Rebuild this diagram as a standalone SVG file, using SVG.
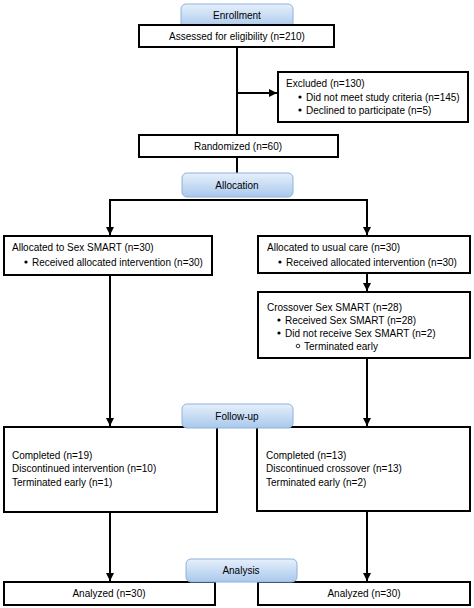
<svg xmlns="http://www.w3.org/2000/svg" width="474" height="608" viewBox="0 0 474 608">
<defs>
<linearGradient id="blue" x1="0" y1="0" x2="0" y2="1">
<stop offset="0" stop-color="#e6f0fb"/>
<stop offset="1" stop-color="#a9c8ec"/>
</linearGradient>
<marker id="arr" viewBox="0 0 10 10" refX="10" refY="5" markerWidth="4" markerHeight="4" orient="auto">
<path d="M0,0 L10,5 L0,10 z" fill="#000"/>
</marker>
</defs>
<style>
.box{fill:#fff;stroke:#000;stroke-width:2}
.stage{fill:url(#blue);stroke:#8fb2dd;stroke-width:1}
.t{font-family:"Liberation Sans",Arial,sans-serif;font-size:10px;fill:#000}
.c{text-anchor:middle}
.ln{stroke:#000;stroke-width:2;fill:none}
</style>
<rect width="474" height="608" fill="#fff"/>
<g id="connectors">
<line class="ln" x1="237" y1="47" x2="237" y2="135"/>
<line class="ln" x1="237" y1="93" x2="277" y2="93" marker-end="url(#arr)"/>
<line class="ln" x1="237" y1="157" x2="237" y2="174"/>
<line class="ln" x1="109" y1="200" x2="368" y2="200"/>
<line class="ln" x1="110" y1="199" x2="110" y2="235" marker-end="url(#arr)"/>
<line class="ln" x1="367" y1="199" x2="367" y2="235" marker-end="url(#arr)"/>
<line class="ln" x1="367" y1="273" x2="367" y2="291" marker-end="url(#arr)"/>
<line class="ln" x1="110" y1="275" x2="110" y2="426" marker-end="url(#arr)"/>
<line class="ln" x1="367" y1="358" x2="367" y2="426" marker-end="url(#arr)"/>
<line class="ln" x1="110" y1="512" x2="110" y2="581" marker-end="url(#arr)"/>
<line class="ln" x1="367" y1="511" x2="367" y2="581" marker-end="url(#arr)"/>
</g>
<g id="enrollment">
<rect class="stage" x="181" y="4" width="112" height="24" rx="5"/>
<text class="t c" x="237" y="19">Enrollment</text>
</g>
<g id="assessed">
<rect class="box" x="139" y="25" width="195" height="22"/>
<text class="t c" x="237" y="40">Assessed for eligibility (n=210)</text>
</g>
<g id="excluded">
<rect class="box" x="278" y="72" width="190" height="50"/>
<text class="t" x="286" y="87">Excluded (n=130)</text>
<circle cx="300" cy="97" r="1.6"/>
<text class="t" x="306" y="101">Did not meet study criteria (n=145)</text>
<circle cx="300" cy="110" r="1.6"/>
<text class="t" x="306" y="114">Declined to participate (n=5)</text>
</g>
<g id="randomized">
<rect class="box" x="139" y="135" width="199" height="22"/>
<text class="t c" x="238" y="150">Randomized (n=60)</text>
</g>
<g id="allocation">
<rect class="stage" x="182" y="173" width="111" height="24" rx="5"/>
<text class="t c" x="237" y="189">Allocation</text>
</g>
<g id="alloc-smart">
<rect class="box" x="4" y="236" width="208" height="39"/>
<text class="t" x="12" y="251">Allocated to Sex SMART (n=30)</text>
<circle cx="26" cy="262" r="1.6"/>
<text class="t" x="32" y="266">Received allocated intervention (n=30)</text>
</g>
<g id="alloc-usual">
<rect class="box" x="258" y="236" width="212" height="37"/>
<text class="t" x="267" y="251">Allocated to usual care (n=30)</text>
<circle cx="280" cy="262" r="1.6"/>
<text class="t" x="286" y="266">Received allocated intervention (n=30)</text>
</g>
<g id="crossover">
<rect class="box" x="258" y="292" width="212" height="66"/>
<text class="t" x="267" y="311">Crossover Sex SMART (n=28)</text>
<circle cx="279" cy="320" r="1.6"/>
<text class="t" x="285" y="324">Received Sex SMART (n=28)</text>
<circle cx="279" cy="333" r="1.6"/>
<text class="t" x="285" y="337">Did not receive Sex SMART (n=2)</text>
<circle cx="298" cy="346" r="1.8" fill="none" stroke="#000" stroke-width="0.8"/>
<text class="t" x="304" y="350">Terminated early</text>
</g>
<g id="followup-left">
<rect class="box" x="4" y="427" width="213" height="85"/>
<text class="t" x="12" y="459">Completed (n=19)</text>
<text class="t" x="12" y="472">Discontinued intervention (n=10)</text>
<text class="t" x="12" y="486">Terminated early (n=1)</text>
</g>
<g id="followup-right">
<rect class="box" x="257" y="427" width="213" height="84"/>
<text class="t" x="266" y="459">Completed (n=13)</text>
<text class="t" x="266" y="472">Discontinued crossover (n=13)</text>
<text class="t" x="266" y="486">Terminated early (n=2)</text>
</g>
<g id="followup">
<rect class="stage" x="182" y="404" width="111" height="24" rx="5"/>
<text class="t c" x="237" y="420">Follow-up</text>
</g>
<g id="analyzed-left">
<rect class="box" x="4" y="582" width="211" height="23"/>
<text class="t c" x="109" y="597">Analyzed (n=30)</text>
</g>
<g id="analyzed-right">
<rect class="box" x="258" y="582" width="212" height="23"/>
<text class="t c" x="364" y="597">Analyzed (n=30)</text>
</g>
<g id="analysis">
<rect class="stage" x="186" y="559" width="111" height="23" rx="5"/>
<text class="t c" x="241" y="574">Analysis</text>
</g>
</svg>
